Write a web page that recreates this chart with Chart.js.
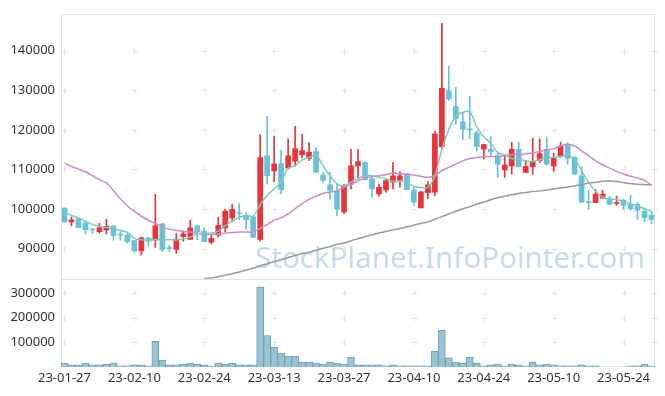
<!DOCTYPE html>
<html>
<head>
<meta charset="utf-8">
<script src="https://cdn.jsdelivr.net/npm/chart.js@4.4.0/dist/chart.umd.min.js"></script>
<style>
  html, body { margin: 0; padding: 0; background: #fff; }
</style>
</head>
<body>
<canvas id="stockChart" width="665" height="396"></canvas>
<script>
const dates = [
    '23-01-27', '23-01-30', '23-01-31', '23-02-01', '23-02-02', '23-02-03', '23-02-06', '23-02-07', '23-02-08', '23-02-09',
    '23-02-10', '23-02-13', '23-02-14', '23-02-15', '23-02-16', '23-02-17', '23-02-20', '23-02-21', '23-02-22', '23-02-23',
    '23-02-24', '23-02-27', '23-02-28', '23-03-02', '23-03-03', '23-03-06', '23-03-07', '23-03-08', '23-03-09', '23-03-10',
    '23-03-13', '23-03-14', '23-03-15', '23-03-16', '23-03-17', '23-03-20', '23-03-21', '23-03-22', '23-03-23', '23-03-24',
    '23-03-27', '23-03-28', '23-03-29', '23-03-30', '23-03-31', '23-04-03', '23-04-04', '23-04-05', '23-04-06', '23-04-07',
    '23-04-10', '23-04-11', '23-04-12', '23-04-13', '23-04-14', '23-04-17', '23-04-18', '23-04-19', '23-04-20', '23-04-21',
    '23-04-24', '23-04-25', '23-04-26', '23-04-27', '23-04-28', '23-05-02', '23-05-03', '23-05-04', '23-05-08', '23-05-09',
    '23-05-10', '23-05-11', '23-05-12', '23-05-15', '23-05-16', '23-05-17', '23-05-18', '23-05-19', '23-05-22', '23-05-23',
    '23-05-24', '23-05-25', '23-05-26', '23-05-30', '23-05-31'
];

const opens = [
    100250, 96750, 97500, 96600, 94900, 94250, 94750, 95750, 93700, 93400,
    92000, 89400, 92750, 92100, 96250, 90100, 89800, 93000, 92300, 95750,
    94400, 91600, 93400, 95250, 97750, 99000, 98400, 98000, 92300, 113400,
    109600, 111500, 110400, 112100, 113750, 112800, 114500, 108600, 106100, 104600,
    99250, 106300, 110900, 111750, 107600, 103800, 104800, 106750, 107300, 108800,
    104800, 100300, 104100, 104250, 115750, 129900, 125900, 122000, 120250, 119250,
    115100, 115100, 113400, 109900, 110900, 115100, 109250, 110700, 112200, 115000,
    110900, 113200, 116300, 113000, 108400, 101800, 101600, 102750, 102750, 101400,
    102200, 101200, 101200, 99400, 98400
];
const highs = [
    100300, 98000, 97600, 96600, 95100, 96400, 97400, 95750, 94250, 93800,
    92100, 92900, 92750, 103700, 96400, 90900, 93800, 94400, 97200, 95750,
    95400, 93400, 97900, 99900, 101250, 101400, 99100, 98200, 118800, 123400,
    118400, 114900, 117750, 120900, 118900, 116750, 115500, 109250, 109250, 106300,
    106300, 115100, 115100, 111900, 108000, 106300, 107600, 111750, 109400, 109000,
    105500, 104500, 106900, 119700, 146900, 136100, 130700, 124250, 128400, 119700,
    116400, 118400, 114400, 113400, 116900, 116900, 112300, 117900, 117750, 118250,
    114100, 116900, 116750, 113300, 110700, 104700, 104900, 104700, 103250, 103250,
    102600, 103600, 101750, 100250, 99400
];
const lows = [
    96700, 95700, 95300, 93700, 93800, 93900, 93700, 92100, 92100, 91400,
    89100, 88400, 90700, 90300, 89250, 89250, 88800, 91900, 92300, 92250,
    91750, 91200, 92900, 94250, 96750, 97400, 94900, 92800, 91900, 106300,
    106900, 103800, 110100, 110900, 112900, 112200, 109250, 106750, 102400, 98250,
    98800, 105100, 107600, 107300, 103000, 103250, 104250, 105100, 105500, 104900,
    100900, 100300, 102600, 103400, 115100, 127400, 121300, 117600, 117750, 114700,
    112600, 113250, 108000, 108000, 108800, 110600, 109100, 108800, 111750, 111100,
    109500, 113000, 111300, 108800, 101750, 99900, 101600, 102600, 101100, 100900,
    99900, 99700, 97400, 96750, 96300
];
const closes = [
    96750, 97250, 95300, 94800, 94700, 95250, 95600, 93300, 93400, 91750,
    89400, 92750, 91900, 95750, 89750, 90000, 92400, 93750, 95250, 94250,
    91750, 92600, 95900, 99500, 99900, 98800, 97300, 92800, 113000, 108400,
    111400, 104900, 113400, 115250, 114750, 114400, 109250, 107300, 104700, 99900,
    105900, 110900, 112000, 107400, 105100, 105500, 107200, 108400, 108400, 104900,
    101750, 104250, 106100, 119000, 130500, 127800, 122800, 120100, 120000, 115750,
    116300, 114400, 111300, 111100, 115100, 110700, 110750, 111900, 114000, 111300,
    113000, 115900, 112750, 108800, 101750, 101600, 103750, 103750, 101250, 101600,
    100900, 100100, 99700, 97800, 97400
];

// moving averages as drawn in the picture
const ma5 = [
    99100, 98420, 97750, 96920, 96080, 95670, 95330, 95080, 94580, 94080,
    92580, 92250, 92170, 92330, 92250, 92250, 92250, 92420, 92900, 93750,
    93920, 93920, 94420, 95750, 97000, 97830, 98420, 98170, 101080, 103420,
    105080, 106750, 110330, 110920, 112420, 113000, 113580, 110920, 108420, 106330,
    105920, 106750, 107670, 108420, 108420, 108000, 107580, 107000, 107000, 106750,
    105750, 105420, 105500, 108420, 115080, 120080, 123420, 124420, 124500, 120750,
    118250, 116580, 114250, 113700, 112750, 112580, 112170, 112000, 112420, 113000,
    113000, 113250, 113670, 112580, 109670, 106750, 104420, 103000, 102420, 102420,
    101920, 101330, 100750, 100080, 99420
];
const ma20 = [
    111580, 110750, 110080, 109420, 108420, 107420, 106580, 104670, 102580, 100750,
    99420, 98170, 97170, 96330, 95500, 94920, 94580, 94330, 94170, 93920,
    93670, 93600, 93670, 93920, 94080, 94170, 94170, 94250, 95080, 96080,
    97170, 97750, 98750, 100080, 101330, 102420, 103250, 103920, 104250, 104580,
    105500, 106170, 107080, 107830, 108170, 108420, 108670, 109080, 108920, 108750,
    108580, 108250, 108000, 108420, 109670, 110500, 111330, 112170, 112750, 113000,
    113170, 113250, 113250, 113500, 113750, 113830, 113920, 114170, 114500, 114920,
    115250, 115920, 116330, 115920, 114670, 113420, 112170, 111170, 110330, 109500,
    108830, 108250, 107830, 107170, 106080
];
const ma60 = [
    null, null, null, null, null, null, null, null, null, null,
    null, null, null, null, null, null, null, null, null, null,
    82450, 82580, 82920, 83250, 83670, 84080, 84580, 85080, 85670, 86170,
    86750, 87170, 87750, 88250, 88750, 89080, 89580, 90080, 90500, 91080,
    91420, 92000, 92500, 93000, 93500, 93920, 94330, 94750, 95080, 95500,
    95920, 96330, 96750, 97420, 98080, 98750, 99420, 100080, 100580, 101250,
    101750, 102330, 102830, 103200, 103580, 103920, 104170, 104420, 104580, 104830,
    105080, 105330, 105580, 105830, 106170, 106500, 106750, 107000, 107080, 106920,
    106670, 106420, 106250, 106170, 106080
];

const volumes = [
    16000, 9000, 9000, 16000, 9000, 9000, 12000, 16000, 5000, 5000,
    9000, 9000, 5000, 104000, 28000, 9000, 9000, 12000, 16000, 12000,
    9000, 5000, 16000, 12000, 16000, 9000, 9000, 9000, 324000, 128000,
    80000, 56000, 44000, 44000, 20000, 20000, 16000, 12000, 20000, 16000,
    12000, 40000, 9000, 9000, 9000, 9000, 5000, 9000, 5000, 5000,
    5000, 5000, 5000, 64000, 149000, 37000, 20000, 16000, 40000, 16000,
    5000, 9000, 12000, 5000, 12000, 9000, 5000, 20000, 9000, 12000,
    9000, 5000, 5000, 5000, 9000, 5000, 5000, 0, 0, 0,
    0, 5000, 5000, 12000, 5000
];

const priceTicks = [90000, 100000, 110000, 120000, 130000, 140000];
const volumeTicks = [100000, 200000, 300000];

const upColor = '#ea333a';
const downColor = '#68c1d9';
const candleColors = closes.map((c, i) => c >= opens[i] ? upColor : downColor);

// 격자 대신 교차점에 + 표시, 패널 테두리, 워터마크
const panelPlugin = {
    id: 'panels',
    beforeDatasetsDraw(chart) {
        const { ctx, scales: { x, y, y2 } } = chart;
        ctx.save();

        // watermark
        const mark = 'StockPlanet.InfoPointer.com';
        ctx.font = '33px "Noto Sans"';
        const size = 33 * 390 / ctx.measureText(mark).width;
        ctx.font = size + 'px "Noto Sans"';
        ctx.fillStyle = 'rgba(185, 210, 224, 0.8)';
        ctx.textAlign = 'right';
        ctx.textBaseline = 'alphabetic';
        ctx.fillText(mark, x.right - 10, y.bottom - 11);

        // panel frames
        ctx.strokeStyle = '#e2e2e2';
        ctx.lineWidth = 1;
        ctx.strokeRect(Math.round(x.left) + 0.5, Math.round(y.top) + 0.5,
            Math.round(x.right - x.left) - 1, Math.round(y.bottom - y.top));
        ctx.strokeRect(Math.round(x.left) + 0.5, Math.round(y2.top) + 0.5,
            Math.round(x.right - x.left) - 1, Math.round(y2.bottom - y2.top) - 1);

        // crosses
        const xs = [];
        dates.forEach((d, i) => {
            if (i % 10 === 0) xs.push(Math.round(x.getPixelForValue(i)));
        });
        xs.push(Math.round(x.right) - 1);
        const ys = y.ticks.map(t => Math.round(y.getPixelForValue(t.value)))
            .concat(y2.ticks.map(t => Math.round(y2.getPixelForValue(t.value))));
        ctx.strokeStyle = '#e3e3e3';
        ctx.beginPath();
        xs.forEach(px => {
            ys.forEach(py => {
                ctx.moveTo(px - 2.5, py + 0.5);
                ctx.lineTo(px + 3.5, py + 0.5);
                ctx.moveTo(px + 0.5, py - 2.5);
                ctx.lineTo(px + 0.5, py + 3.5);
            });
        });
        ctx.stroke();
        ctx.restore();
    }
};

Chart.defaults.font.family = '"Noto Sans", sans-serif';
Chart.defaults.font.size = 13;
Chart.defaults.color = '#333';

const stockConfig = {
    type: 'bar',
    data: {
        labels: dates,
        datasets: [
            { type: 'line', label: 'MA5', data: ma5, borderColor: '#82cab8', borderWidth: 1.5, pointRadius: 0, tension: 0.35, yAxisID: 'y', order: 1 },
            { type: 'line', label: 'MA20', data: ma20, borderColor: '#c98dc6', borderWidth: 1.5, pointRadius: 0, tension: 0.35, yAxisID: 'y', order: 2 },
            { type: 'line', label: 'MA60', data: ma60, borderColor: '#9a9a9a', borderWidth: 1.5, pointRadius: 0, tension: 0.35, yAxisID: 'y', order: 3 },
            {
                label: 'body', data: opens.map((o, i) => [o, closes[i]]),
                backgroundColor: candleColors, barThickness: 5, minBarLength: 1,
                grouped: false, yAxisID: 'y', order: 4
            },
            {
                label: 'wick', data: lows.map((l, i) => [l, highs[i]]),
                backgroundColor: candleColors, barThickness: 1,
                grouped: false, yAxisID: 'y', order: 5
            },
            {
                label: 'volume', data: volumes,
                backgroundColor: '#9cc3d3', borderColor: '#6e9fb5', borderWidth: 1,
                barPercentage: 1, categoryPercentage: 1,
                grouped: false, yAxisID: 'y2', order: 6
            }
        ]
    },
    options: {
        responsive: false,
        animation: false,
        layout: { padding: { top: 10, right: 10, left: 0, bottom: 0 } },
        plugins: {
            legend: { display: false },
            tooltip: { enabled: false }
        },
        scales: {
            x: {
                type: 'category',
                offset: true,
                grid: { display: false, drawTicks: false },
                border: { display: false },
                ticks: {
                    autoSkip: false,
                    maxRotation: 0,
                    padding: 3,
                    callback: (v, i) => i % 10 === 0 ? dates[i] : null
                },
                afterFit: (s) => { s.height = 29; }
            },
            y: {
                position: 'left',
                stack: 'panels',
                stackWeight: 3,
                weight: 1,
                min: 82400,
                max: 149300,
                grid: { display: false, drawTicks: false },
                border: { display: false },
                ticks: { padding: 6, callback: (v) => String(v) },
                afterBuildTicks: (s) => { s.ticks = priceTicks.map(v => ({ value: v })); },
                afterFit: (s) => { s.width = 61; }
            },
            y2: {
                position: 'left',
                stack: 'panels',
                stackWeight: 1,
                weight: 0,
                min: 0,
                max: 358400,
                grid: { display: false, drawTicks: false },
                border: { display: false },
                ticks: { padding: 6, callback: (v) => String(v) },
                afterBuildTicks: (s) => { s.ticks = volumeTicks.map(v => ({ value: v })); },
                afterFit: (s) => { s.width = 61; }
            }
        }
    },
    plugins: [panelPlugin]
};

const stockCtx = document.getElementById('stockChart').getContext('2d');
const stockChart = new Chart(stockCtx, stockConfig);
</script>
</body>
</html>
